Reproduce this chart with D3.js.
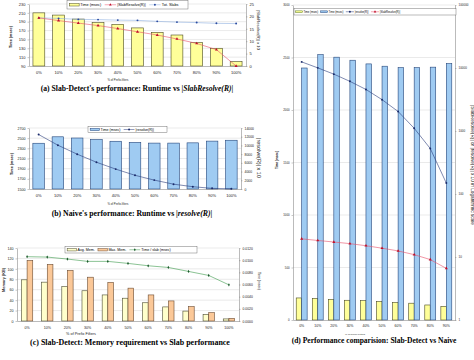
<!DOCTYPE html>
<html><head><meta charset="utf-8">
<script src="https://cdn.jsdelivr.net/npm/d3@7"></script>
<style>body{margin:0;background:#fff} svg{display:block}</style>
</head><body><svg id="c" width="474" height="360"></svg>
<script>
// ---------- data ----------
const cats = ["0%","10%","20%","30%","40%","50%","60%","70%","80%","90%","100%"];
const catsD = ["0%","10%","20%","30%","40%","50%","60%","70%","80%","90%"];
const slabTime = [210, 205, 196, 188, 184, 176, 166, 160, 143, 130, 100];
const slabResolve = [19.4, 18.3, 17.3, 16.3, 15.1, 13.8, 12.5, 10.9, 9.1, 6.6, 0];
const totSlabs = [19.4, 19.2, 18.8, 18.7, 18.5, 18.4, 18.0, 17.7, 17.5, 17.2, 17.1];
const naiveTime = [2400, 2527, 2503, 2474, 2439, 2417, 2403, 2403, 2408, 2442, 2459];
const resolveCnt = [12500, 10050, 7990, 6140, 4565, 3145, 2040, 1105, 527, 149, 40];
const avgMem = [79, 74.5, 66, 58, 50, 43.7, 35, 27, 19, 12.8, 4];
const maxMem = [116, 108.5, 97, 84, 74, 63, 50, 38.5, 27.6, 16, 5];
const timePerSlab = [0.01057, 0.01051, 0.01018, 0.0098, 0.0098, 0.00947, 0.00908, 0.0088, 0.00815, 0.00749, 0.00594];
const slabTimeD = slabTime.slice(0, 10);
const naiveTimeD = naiveTime.slice(0, 10);
const resolveD = resolveCnt.slice(0, 10);
const slabResolveD = slabResolve.slice(0, 10);

const ticksA_L = [90,110,130,150,170,190,210,230];
const ticksA_R = [0,5,10,15,20,25];
const ticksB_L = [1500,1700,1900,2100,2300,2500,2700];
const ticksB_R = [0,2000,4000,6000,8000,10000,12000,14000];
const ticksC_L = [0,20,40,60,80,100,120,140];
const ticksC_R = [0,0.002,0.004,0.006,0.008,0.010,0.012];
const ticksD_L = [0,500,1000,1500,2000,2500,3000];
const ticksD_R = [1,10,100,1000,10000,100000];

// ---------- helpers ----------
const svg = d3.select("#c");
const SANS = "'Liberation Sans', Arial, sans-serif";
const SERIF = "'Liberation Serif', 'Times New Roman', serif";

function txt(g, x, y, s, o = {}) {
  const t = g.append("text").attr("x", x).attr("y", y)
    .attr("text-anchor", o.anchor || "middle")
    .style("font-family", o.font || SANS)
    .style("font-size", (o.fs || 4) + "px")
    .style("font-weight", o.bold ? "bold" : "normal")
    .attr("fill", o.color || "#000");
  if (Array.isArray(s)) {
    s.forEach(p => t.append("tspan").style("font-style", p.i ? "italic" : "normal").text(p.t));
  } else t.text(s);
  if (o.rot) t.attr("transform", `rotate(${o.rot},${x},${y})`);
  if (o.w) {
    const len = t.node().getComputedTextLength();
    t.style("font-size", ((o.fs || 4) * o.w / len) + "px");
  }
  return t;
}

function marker(g, cx, cy, m, size) {
  if (!m) return;
  const sym = { tri: d3.symbolTriangle, dot: d3.symbolCircle, dia: d3.symbolDiamond, sq: d3.symbolSquare }[m.shape];
  g.append("path").attr("d", d3.symbol(sym, size || m.size || 4)())
    .attr("transform", `translate(${cx},${cy})`)
    .attr("fill", m.color);
}

function legend(g, items, bx, by, h, fs, totalW) {
  const grp = g.append("g");
  const box = grp.append("rect").attr("fill", "#fff").attr("stroke", "#555").attr("stroke-width", 0.4);
  let cx = bx + fs * 0.6;
  const cy = by + h / 2;
  items.forEach(it => {
    if (it.type === "bar") {
      grp.append("rect").attr("x", cx).attr("y", cy - fs * 0.33).attr("width", fs * 2.6).attr("height", fs * 0.66)
        .attr("fill", it.fill).attr("stroke", it.stroke).attr("stroke-width", 0.5);
      cx += fs * 2.6 + fs * 0.3;
    } else {
      grp.append("line").attr("x1", cx).attr("x2", cx + fs * 3).attr("y1", cy).attr("y2", cy)
        .attr("stroke", it.color).attr("stroke-width", 0.5);
      marker(grp, cx + fs * 1.5, cy, it.marker, 3);
      cx += fs * 3 + fs * 0.3;
    }
    const t = txt(grp, cx, cy + fs * 0.35, it.label, { fs, anchor: "start" });
    cx += t.node().getComputedTextLength() + fs * 0.9;
  });
  const w = totalW || (cx - bx);
  box.attr("x", bx).attr("y", by).attr("width", w).attr("height", h);
}

function panel(o) {
  const { x0, x1, y0, y1 } = o;
  const g = svg.append("g");
  const x = d3.scaleBand().domain(o.cats).range([x0, x1]).paddingInner(o.padIn).paddingOuter(o.padOut);
  const yL = d3.scaleLinear().domain(o.lDom).range([y1, y0]);
  const yR = (o.rLog ? d3.scaleLog() : d3.scaleLinear()).domain(o.rDom).range([y1, y0]);

  // gridlines
  g.append("g").selectAll("line").data(o.lTicks.slice(1)).join("line")
    .attr("x1", x0).attr("x2", x1).attr("y1", d => yL(d)).attr("y2", d => yL(d))
    .attr("stroke", "#c9c9c9").attr("stroke-width", 0.4);

  // bars
  const sub = d3.scaleBand().domain(o.bars.map((b, i) => i)).range([0, x.bandwidth()]);
  o.bars.forEach((b, i) => {
    g.append("g").selectAll("rect").data(b.values).join("rect")
      .attr("x", (d, j) => x(o.cats[j]) + sub(i)).attr("width", sub.bandwidth())
      .attr("y", d => yL(Math.max(d, o.lDom[0]))).attr("height", d => y1 - yL(Math.max(d, o.lDom[0])))
      .attr("fill", b.fill).attr("stroke", b.stroke).attr("stroke-width", b.sw || 0.6);
  });

  // axes
  const axStyle = sel => {
    sel.select(".domain").attr("stroke", "#777").attr("stroke-width", 0.5);
    sel.selectAll(".tick line").attr("stroke", "#777").attr("stroke-width", 0.4);
    sel.selectAll("text").style("font-family", SANS).attr("fill", "#222");
  };
  g.append("g").attr("transform", `translate(${x0},0)`)
    .call(d3.axisLeft(yL).tickValues(o.lTicks).tickSize(1.5).tickSizeOuter(0).tickPadding(2).tickFormat(o.lFmt || d3.format("d")))
    .call(axStyle).selectAll("text").style("font-size", o.tfs + "px");
  g.append("g").attr("transform", `translate(${x1},0)`)
    .call(d3.axisRight(yR).tickValues(o.rTicks).tickSize(1.5).tickSizeOuter(0).tickPadding(2).tickFormat(o.rFmt || d3.format("d")))
    .call(axStyle).selectAll("text").style("font-size", o.rfs + "px");
  g.append("g").attr("transform", `translate(0,${y1})`)
    .call(d3.axisBottom(x).tickSize(0).tickPadding(o.xPad))
    .call(axStyle).selectAll("text").style("font-size", o.xfs + "px");

  // lines
  o.lines.forEach(l => {
    const line = d3.line().x((d, j) => x(o.cats[j]) + x.bandwidth() / 2).y(d => yR(d));
    g.append("path").datum(l.values).attr("d", line).attr("fill", "none")
      .attr("stroke", l.color).attr("stroke-width", l.sw || 0.6);
    l.values.forEach((d, j) => marker(g, x(o.cats[j]) + x.bandwidth() / 2, yR(d), l.marker));
  });

  // legend
  legend(g, o.legend.items, o.legend.x, o.legend.y, o.legend.h, o.legend.fs, o.legend.w);

  // titles
  txt(g, o.xTitle.x, o.xTitle.y, o.xTitle.s, { w: o.xTitle.w, color: "#222" });
  txt(g, o.lTitle.x, o.lTitle.y, o.lTitle.s, { w: o.lTitle.w, rot: -90, bold: true, color: "#222" });
  txt(g, o.rTitle.x, o.rTitle.y, o.rTitle.s, { w: o.rTitle.w, rot: 90, color: "#222" });
  txt(g, o.cap.x, o.cap.y, o.cap.s, { w: o.cap.w, font: SERIF, bold: true, fs: 9 });
  return g;
}

const YEL = "#ffff99", YEL_S = "#4a4a20";
const BLU = "#9fcbf2", BLU_S = "#24457a";
const RED = "#e8506a", RED_M = "#c0102a";
const NAVY = "#2a3c7c";

// (a)
panel({
  cats, x0: 29, x1: 246, y0: 4, y1: 66, padIn: 0.4, padOut: 0.2,
  lDom: [90, 230], lTicks: ticksA_L, rDom: [0, 25], rTicks: ticksA_R,
  tfs: 4, rfs: 4, xfs: 4, xPad: 5,
  bars: [{ values: slabTime, fill: YEL, stroke: YEL_S }],
  lines: [
    { values: totSlabs, color: "#8fb0e0", marker: { shape: "dot", color: "#2a4aa0", size: 3 } },
    { values: slabResolve, color: RED, marker: { shape: "tri", color: RED_M, size: 4 } }
  ],
  legend: { x: 67, y: 0.5, h: 8.5, fs: 3.8, w: 121, items: [
    { type: "bar", fill: YEL, stroke: YEL_S, label: "Time (msec)" },
    { type: "line", color: RED, marker: { shape: "tri", color: RED_M }, label: "|SlabResolve(R)|" },
    { type: "line", color: "#8fb0e0", marker: { shape: "dot", color: "#2a4aa0" }, label: "Tot. Slabs" }
  ] },
  xTitle: { x: 118, y: 81, s: "% of Prefix-filters", w: 21 },
  lTitle: { x: 12, y: 37, s: "Time (msec)", w: 22 },
  rTitle: { x: 257, y: 30, s: "|SlabResolve(R)| x 10", w: 40 },
  cap: { x: 137, y: 91, s: [{ t: "(a) Slab-Detect's performance: Runtime vs |" }, { t: "SlabResolve(R)", i: true }, { t: "|" }], w: 193 }
});

// (b)
panel({
  cats, x0: 29, x1: 241, y0: 128, y1: 189, padIn: 0.4, padOut: 0.2,
  lDom: [1500, 2700], lTicks: ticksB_L, rDom: [0, 14000], rTicks: ticksB_R,
  tfs: 3.6, rfs: 3.4, xfs: 4, xPad: 5,
  bars: [{ values: naiveTime, fill: BLU, stroke: BLU_S }],
  lines: [{ values: resolveCnt, color: NAVY, marker: { shape: "dot", color: "#1a2a6a", size: 3 } }],
  legend: { x: 88, y: 126.5, h: 6, fs: 3.6, w: 79, items: [
    { type: "bar", fill: BLU, stroke: BLU_S, label: "Time (msec)" },
    { type: "line", color: NAVY, marker: { shape: "dot", color: "#1a2a6a" }, label: "|resolve(R)|" }
  ] },
  xTitle: { x: 118, y: 205, s: "% of Prefix-filters", w: 21 },
  lTitle: { x: 13, y: 164, s: "Time (msec)", w: 22 },
  rTitle: { x: 257, y: 158, s: "|resolve(R)| x 10", w: 40 },
  cap: { x: 132, y: 216, s: [{ t: "(b) Naive's performance: Runtime vs |" }, { t: "resolve(R)", i: true }, { t: "|" }], w: 161 }
});

// (c)
panel({
  cats, x0: 17, x1: 239, y0: 248, y1: 321, padIn: 0.44, padOut: 0.22,
  lDom: [0, 140], lTicks: ticksC_L, rDom: [0, 0.012], rTicks: ticksC_R,
  tfs: 3.6, rfs: 3.4, xfs: 3.6, xPad: 5,
  lFmt: d3.format("d"), rFmt: d3.format(".4f"),
  bars: [
    { values: avgMem, fill: "#ffffcc", stroke: "#4a4a30" },
    { values: maxMem, fill: "#fbc898", stroke: "#6a4a30" }
  ],
  lines: [{ values: timePerSlab, color: "#3c9a4c", marker: { shape: "dia", color: "#1c5a2c", size: 3 } }],
  legend: { x: 65, y: 246.5, h: 6.5, fs: 3.6, w: 132, items: [
    { type: "bar", fill: "#ffffcc", stroke: "#4a4a30", label: "Avg. Mem." },
    { type: "bar", fill: "#fbc898", stroke: "#6a4a30", label: "Max. Mem." },
    { type: "line", color: "#3c9a4c", marker: { shape: "dia", color: "#1c5a2c" }, label: "Time / slab (msec)" }
  ] },
  xTitle: { x: 81, y: 335, s: "% of Prefix Filters", w: 30 },
  lTitle: { x: 5, y: 280, s: "Memory (KB)", w: 24 },
  rTitle: { x: 258, y: 281, s: "Time (msec)", w: 18 },
  cap: { x: 130, y: 345, s: "(c) Slab-Detect: Memory requirement vs Slab performance", w: 200 }
});

// (d)
panel({
  cats: catsD, x0: 293, x1: 455, y0: 5, y1: 320, padIn: 0.32, padOut: 0.2,
  lDom: [0, 3000], lTicks: ticksD_L, rDom: [1, 100000], rTicks: ticksD_R, rLog: true,
  tfs: 2.8, rfs: 3, xfs: 3.5, xPad: 5,
  bars: [
    { values: slabTimeD, fill: YEL, stroke: YEL_S },
    { values: naiveTimeD, fill: BLU, stroke: BLU_S }
  ],
  lines: [
    { values: resolveD, color: NAVY, marker: { shape: "dot", color: "#1a2a6a", size: 3 } },
    { values: slabResolveD, color: RED, marker: { shape: "tri", color: RED_M, size: 4 } }
  ],
  legend: { x: 294, y: 8.5, h: 6.5, fs: 2.7, w: 162, items: [
    { type: "bar", fill: YEL, stroke: "#5a7a20", label: "Time (msec)" },
    { type: "bar", fill: BLU, stroke: BLU_S, label: "Time (msec)" },
    { type: "line", color: NAVY, marker: { shape: "dot", color: "#1a2a6a" }, label: "|resolve(R)|" },
    { type: "line", color: RED, marker: { shape: "tri", color: RED_M }, label: "|SlabResolve(R)|" }
  ] },
  xTitle: { x: 355, y: 335, s: "% of Prefix-Filters", w: 20 },
  lTitle: { x: 278, y: 160, s: "Time (msec)", w: 18 },
  rTitle: { x: 471, y: 165, s: "|SlabResolve(R)| or |resolve(R)| x 10 in Logarithmic scale", w: 120 },
  cap: { x: 374, y: 343, s: "(d) Performance comparision: Slab-Detect vs Naive", w: 165 }
});
</script></body></html>
